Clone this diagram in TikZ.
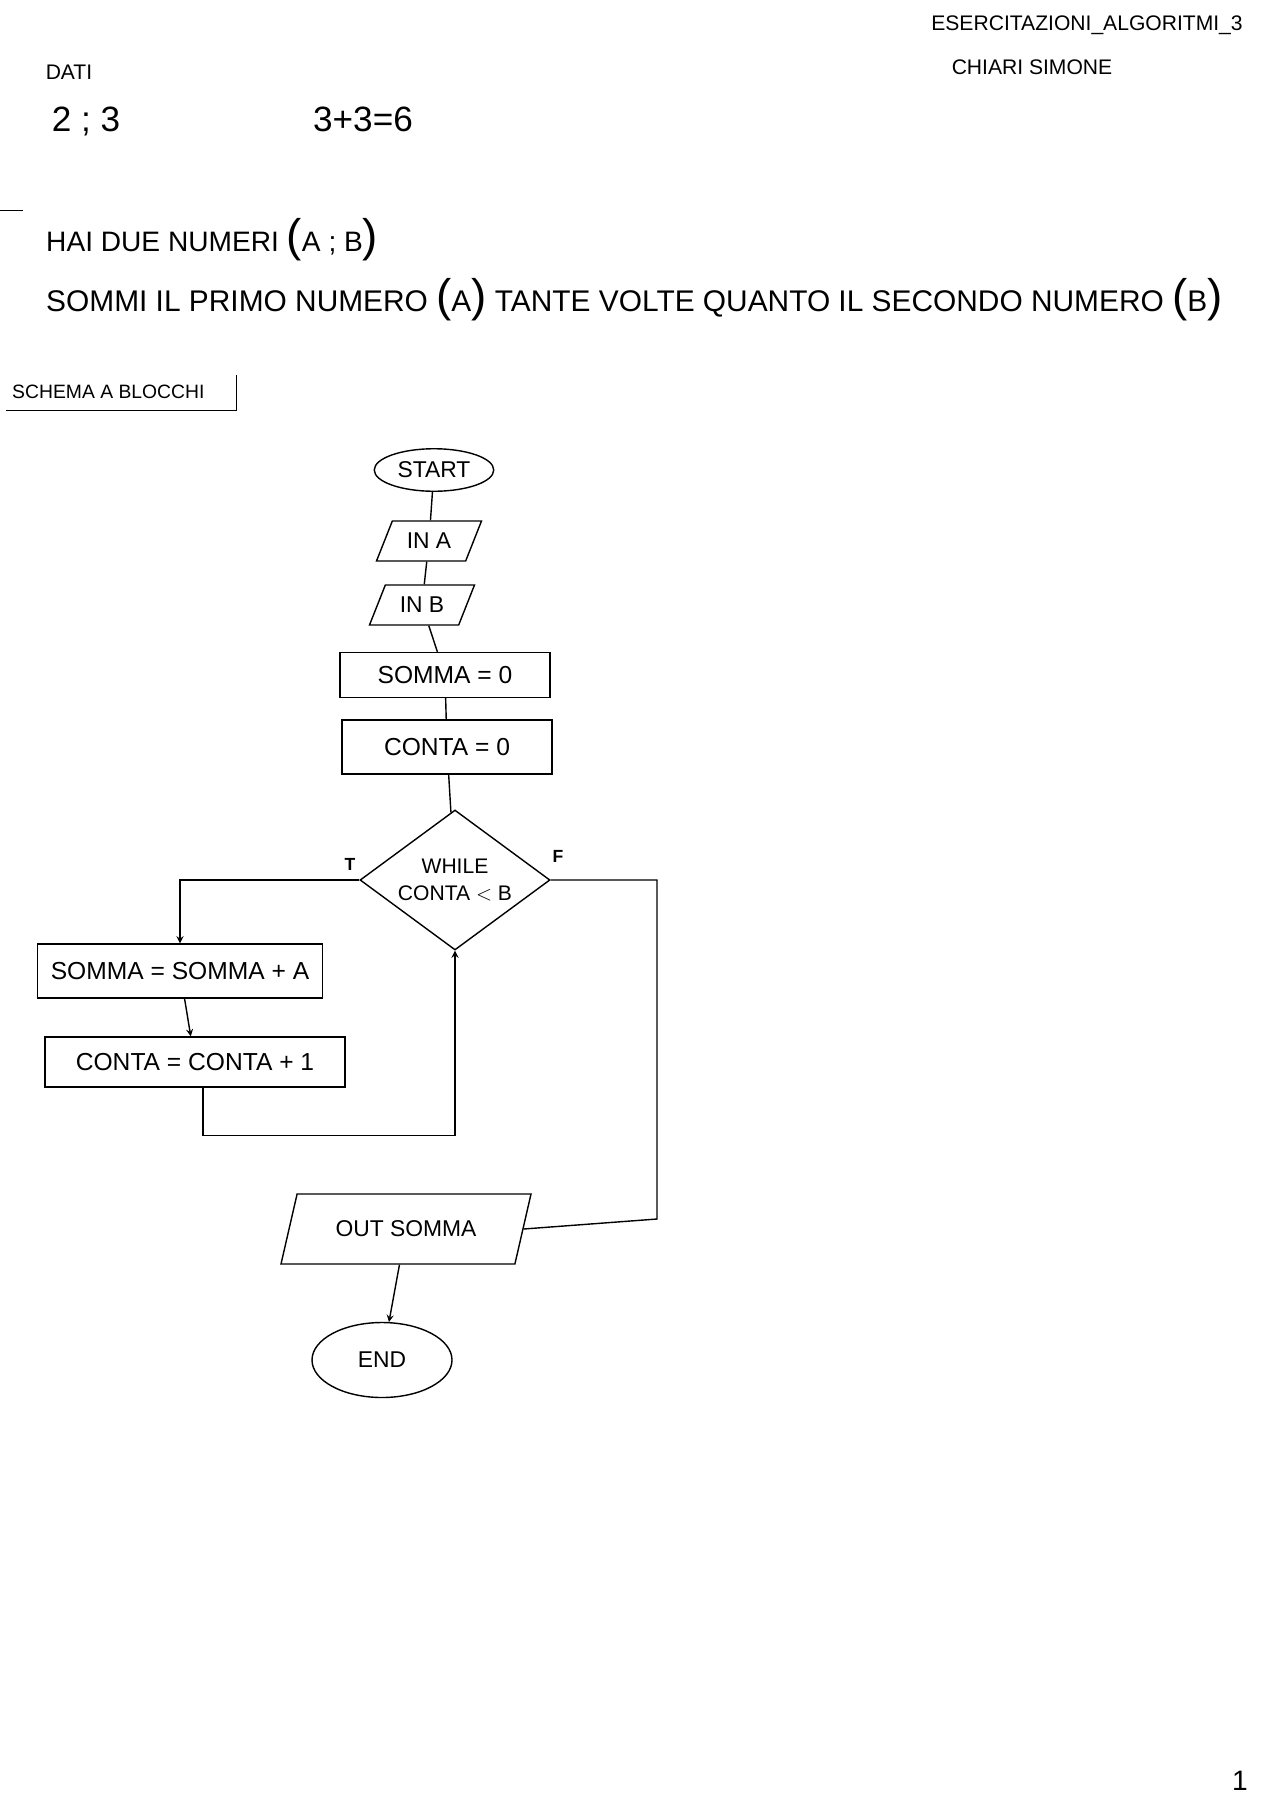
\documentclass[tikz,border=0pt]{standalone}
\usepackage{fontspec}
\setmainfont{Liberation Sans}
\usetikzlibrary{shapes.geometric,positioning}

\tikzset{
  flowbox/.style={draw, thick, minimum width=42mm, minimum height=9mm, font=\fontsize{14}{16}\selectfont},
  iobox/.style={draw, thick, trapezium, trapezium left angle=60, trapezium right angle=120, trapezium stretches body, font=\fontsize{13}{15}\selectfont},
  termbox/.style={draw, thick, ellipse, font=\fontsize{13}{15}\selectfont},
  choice/.style={draw, thick, diamond, aspect=1.35, inner sep=1pt, align=center, font=\fontsize{12}{15}\selectfont},
  flowline/.style={thick, ->, >=stealth}
}

\begin{document}
\begin{tikzpicture}[x=0.2mm, y=-0.2mm]

    % Page frame
    \useasboundingbox (0,0) rectangle (1280,1809);

    % Header
    \node (titolo) at (1087,25) {\fontsize{12}{14}\selectfont ESERCITAZIONI\_ALGORITMI\_3};
    \node (autore) at (1032,67) {\fontsize{12}{14}\selectfont CHIARI SIMONE};

    % Data
    \node (dati) at (69,72) {\fontsize{12}{14}\selectfont DATI};
    \node (valori) at (86,121) {\fontsize{20}{24}\selectfont 2 ; 3};
    \node (somma) at (363,119) {\fontsize{20}{24}\selectfont 3+3=6};
    \draw (0,210) -- (23,210);

    % Problem text
    \node[anchor=west, font=\fontsize{16}{20}\selectfont] (testoA) at (40,240) {HAI DUE NUMERI {\fontsize{26}{28}\selectfont(}A ; B{\fontsize{26}{28}\selectfont)}};
    \node[anchor=west, font=\fontsize{17}{20}\selectfont] (testoB) at (40,300) {SOMMI IL PRIMO NUMERO {\fontsize{26}{28}\selectfont(}A{\fontsize{26}{28}\selectfont)} TANTE VOLTE QUANTO IL SECONDO NUMERO {\fontsize{26}{28}\selectfont(}B{\fontsize{26}{28}\selectfont)}};

    % Section label
    \node[anchor=west] (schema) at (6,392) {\fontsize{11}{13}\selectfont SCHEMA A BLOCCHI};
    \draw (6,410) -- (236,410) -- (236,375);

    % Flowchart
    \node[termbox, minimum width=23mm, minimum height=8.5mm] (start) at (434,470) {START};
    \node[iobox, minimum width=21mm, minimum height=8mm] (inA) at (429,541) {IN A};
    \node[iobox, minimum width=21mm, minimum height=8mm] (inB) at (422,605) {IN B};
    \node[flowbox] (azzeraS) at (445,675) {SOMMA = 0};
    \node[flowbox, minimum height=10.8mm] (azzeraC) at (447,747) {CONTA = 0};
    \node[choice, minimum width=38mm, minimum height=28mm] (ciclo) at (455,880) {WHILE\\CONTA $<$ B};
    \node[flowbox, minimum width=57mm, minimum height=10.8mm] (addA) at (180,971) {SOMMA = SOMMA + A};
    \node[flowbox, minimum width=60mm, minimum height=10mm] (incC) at (195,1062) {CONTA = CONTA + 1};
    \node[iobox, minimum width=50mm, minimum height=14mm] (out) at (406,1229) {OUT SOMMA};
    \node[termbox, minimum width=28mm, minimum height=15mm] (fine) at (382,1360) {END};

    % Labels of the choice
    \node[font=\bfseries] (vero) at (350,864) {T};
    \node[font=\bfseries] (falso) at (558,856) {F};

    % Connectors
    \draw[thick] (start) -- (inA);
    \draw[thick] (inA) -- (inB);
    \draw[thick] (inB) -- (azzeraS);
    \draw[thick] (azzeraS) -- (azzeraC);
    \draw[thick] (azzeraC) -- (ciclo);
    \draw[flowline] (ciclo.west) -| (addA);
    \draw[flowline] (addA) -- (incC);
    \draw[flowline] (incC.south -| 203,0) -- ++(0,48) -| (ciclo.south);
    \draw[thick] (ciclo.east) -| (657,1219) -- (out.east);
    \draw[flowline] (out) -- (fine);

    % Page number
    \node (pagina) at (1240,1781) {\fontsize{16}{18}\selectfont 1};

\end{tikzpicture}
\end{document}
